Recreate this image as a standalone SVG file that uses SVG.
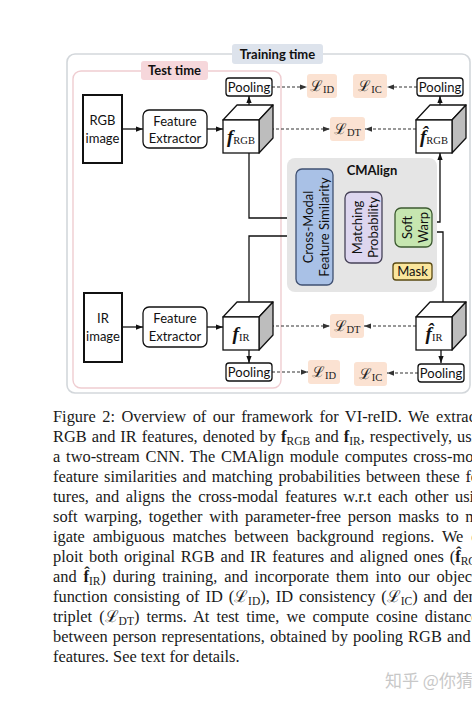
<svg xmlns="http://www.w3.org/2000/svg" width="472" height="701" viewBox="0 0 472 701">
<defs>
<marker id="ah" viewBox="0 0 8 6" refX="8" refY="3" markerWidth="7" markerHeight="5.5" markerUnits="userSpaceOnUse" orient="auto"><path d="M0,0 L8,3 L0,6 Z" fill="#111"/></marker>
<marker id="ahd" viewBox="0 0 8 6" refX="8" refY="3" markerWidth="7" markerHeight="5.5" markerUnits="userSpaceOnUse" orient="auto"><path d="M0,0 L8,3 L0,6 Z" fill="#333"/></marker>
</defs>
<style>
.lbl{font-family:Lato,"Open Sans","Liberation Sans",sans-serif;font-size:13px;fill:#111;text-anchor:middle}
.bold{font-weight:bold}
.box{fill:#fff;stroke:#111;stroke-width:1.3}
.img{fill:#fff;stroke:#111;stroke-width:2}
.ln{fill:none;stroke:#111;stroke-width:1.3}
.dl{fill:none;stroke:#333;stroke-width:1.2;stroke-dasharray:3 2}
.loss{fill:#fbe2d2}
.lt{font-family:"DejaVu Serif","Liberation Serif",serif;font-size:15px;fill:#222;text-anchor:middle}
.ls{font-family:"Liberation Serif",serif;font-size:10.5px}
.front{fill:#fff;stroke:#111;stroke-width:1.3}
.top{fill:#fff;stroke:#111;stroke-width:1.3;stroke-linejoin:round}
.side{fill:#bdbdbd;stroke:#111;stroke-width:1.3;stroke-linejoin:round}
.ft{font-family:"Liberation Serif",serif;font-size:19px;font-style:italic;font-weight:bold;fill:#111;text-anchor:middle}
.fs{font-size:10.5px;font-style:normal;font-weight:normal}
.cap{font-family:"Liberation Serif","Times New Roman",serif;font-size:16.4px;fill:#1a1a1a}
.sb{font-size:11.5px}
</style>

<g id="training-frame">
<rect x="67" y="54" width="403" height="339" rx="8" fill="none" stroke="#d3d7db" stroke-width="1.6"/>
<rect x="232" y="44" width="91" height="20" rx="3" fill="#dde3ec"/>
<text class="lbl bold" x="277.5" y="59">Training time</text>
</g>
<g id="test-frame">
<rect x="73" y="71" width="208" height="317" rx="8" fill="none" stroke="#efcdd1" stroke-width="1.4"/>
<rect x="141" y="61" width="67" height="19" rx="3" fill="#f6d7db"/>
<text class="lbl bold" x="174.5" y="75">Test time</text>
</g>

<g id="connectors">
<path class="ln" d="M122,129 H143" marker-end="url(#ah)"/>
<path class="ln" d="M207,129 H223" marker-end="url(#ah)"/>
<path class="ln" d="M122,327 H143" marker-end="url(#ah)"/>
<path class="ln" d="M207,327 H223" marker-end="url(#ah)"/>
<path class="ln" d="M249,112 V96" marker-end="url(#ah)"/>
<path class="ln" d="M249,350 V363" marker-end="url(#ah)"/>
<path class="ln" d="M249,153 V218 H296" marker-end="url(#ah)"/>
<path class="ln" d="M249,308 V236 H296" marker-end="url(#ah)"/>
<path class="ln" d="M333,227 H345" marker-end="url(#ah)"/>
<path class="ln" d="M382,227 H395" marker-end="url(#ah)"/>
<path class="ln" d="M413,263 V247" marker-end="url(#ah)"/>
<path class="ln" d="M432,222 H440 V153" marker-end="url(#ah)"/>
<path class="ln" d="M432,232 H443 V310" marker-end="url(#ah)"/>
<path class="ln" d="M440,112 V96" marker-end="url(#ah)"/>
<path class="ln" d="M441,350 V363" marker-end="url(#ah)"/>
<path class="dl" d="M272,87 H307" marker-end="url(#ahd)"/>
<path class="dl" d="M417,87 H387" marker-end="url(#ahd)"/>
<path class="dl" d="M266,129 H330" marker-end="url(#ahd)"/>
<path class="dl" d="M416,129 H365" marker-end="url(#ahd)"/>
<path class="dl" d="M266,326 H330" marker-end="url(#ahd)"/>
<path class="dl" d="M416,326 H364" marker-end="url(#ahd)"/>
<path class="dl" d="M272,372 H308" marker-end="url(#ahd)"/>
<path class="dl" d="M418,373 H387" marker-end="url(#ahd)"/>
</g>

<g id="rgb-image"><rect class="img" x="83" y="95" width="39" height="68"/>
<text class="lbl" x="102.5" y="125">RGB</text><text class="lbl" x="102.5" y="143">image</text></g>
<g id="ir-image"><rect class="img" x="84" y="293" width="38" height="69"/>
<text class="lbl" x="103" y="323">IR</text><text class="lbl" x="103" y="341">image</text></g>
<g id="fe-rgb"><rect class="box" x="143" y="110" width="64" height="38" rx="6"/>
<text class="lbl" x="175" y="126">Feature</text><text class="lbl" x="175" y="143">Extractor</text></g>
<g id="fe-ir"><rect class="box" x="143" y="307" width="64" height="40" rx="6"/>
<text class="lbl" x="175" y="323">Feature</text><text class="lbl" x="175" y="341">Extractor</text></g>

<g id="f-rgb">
<path class="top" d="M223,120 L237,105 H273 L259,120 Z"/>
<path class="side" d="M259,120 L273,105 V138 L259,153 Z"/>
<rect class="front" x="223" y="120" width="36" height="33"/>
<text class="ft" x="241" y="143">f<tspan class="fs" dy="1">RGB</tspan></text>
</g>
<g id="f-ir">
<path class="top" d="M223,317 L237,302 H273 L259,317 Z"/>
<path class="side" d="M259,317 L273,302 V335 L259,350 Z"/>
<rect class="front" x="223" y="317" width="36" height="33"/>
<text class="ft" x="241" y="340">f<tspan class="fs" dy="1">IR</tspan></text>
</g>
<g id="fhat-rgb">
<path class="top" d="M416,120 L430,105 H466 L452,120 Z"/>
<path class="side" d="M452,120 L466,105 V138 L452,153 Z"/>
<rect class="front" x="416" y="120" width="36" height="33"/>
<text class="ft" x="434" y="143">f&#x302;<tspan class="fs" dy="1">RGB</tspan></text>
</g>
<g id="fhat-ir">
<path class="top" d="M416,317 L430,302 H466 L452,317 Z"/>
<path class="side" d="M452,317 L466,302 V335 L452,350 Z"/>
<rect class="front" x="416" y="317" width="36" height="33"/>
<text class="ft" x="434" y="340">f&#x302;<tspan class="fs" dy="1">IR</tspan></text>
</g>

<g id="pool-rgb"><rect class="box" x="226" y="78" width="46" height="18" rx="3"/><text class="lbl" x="249" y="91.5">Pooling</text></g>
<g id="pool-ir"><rect class="box" x="226" y="363" width="46" height="18" rx="3"/><text class="lbl" x="249" y="376.5">Pooling</text></g>
<g id="pool-hat-rgb"><rect class="box" x="417" y="78" width="46" height="18" rx="3"/><text class="lbl" x="440" y="91.5">Pooling</text></g>
<g id="pool-hat-ir"><rect class="box" x="418" y="364" width="46" height="18" rx="3"/><text class="lbl" x="441" y="377.5">Pooling</text></g>

<g id="lid-top"><rect class="loss" x="307" y="74" width="30" height="24" rx="3"/><text class="lt" x="322" y="91">ℒ<tspan class="ls" dy="2">ID</tspan></text></g>
<g id="lic-top"><rect class="loss" x="353" y="74" width="34" height="24" rx="3"/><text class="lt" x="370" y="91">ℒ<tspan class="ls" dy="2">IC</tspan></text></g>
<g id="ldt-top"><rect class="loss" x="330" y="117" width="35" height="24" rx="3"/><text class="lt" x="347.5" y="134">ℒ<tspan class="ls" dy="2">DT</tspan></text></g>
<g id="ldt-bot"><rect class="loss" x="330" y="314" width="34" height="24" rx="3"/><text class="lt" x="347" y="331">ℒ<tspan class="ls" dy="2">DT</tspan></text></g>
<g id="lid-bot"><rect class="loss" x="308" y="360" width="32" height="24" rx="3"/><text class="lt" x="324" y="377">ℒ<tspan class="ls" dy="2">ID</tspan></text></g>
<g id="lic-bot"><rect class="loss" x="354" y="362" width="33" height="24" rx="3"/><text class="lt" x="370.5" y="379">ℒ<tspan class="ls" dy="2">IC</tspan></text></g>

<g id="cmalign">
<rect x="287" y="158" width="150" height="134" rx="8" fill="#e5e5e5"/>
<text class="lbl bold" x="372" y="175">CMAlign</text>
</g>
<g id="similarity"><rect x="296" y="169" width="37" height="116" rx="6" fill="#a9c1e6" stroke="#3f5072" stroke-width="1.3"/>
<text class="lbl" transform="translate(314.5,227) rotate(-90)"><tspan x="0" y="-2">Cross-Modal</tspan><tspan x="0" y="14">Feature Similarity</tspan></text></g>
<g id="matching"><rect x="345" y="192" width="37" height="71" rx="6" fill="#ddd6ef" stroke="#464258" stroke-width="1.3"/>
<text class="lbl" transform="translate(363.5,227.5) rotate(-90)"><tspan x="0" y="-2">Matching</tspan><tspan x="0" y="14">Probability</tspan></text></g>
<g id="softwarp"><rect x="395" y="208" width="37" height="39" rx="6" fill="#c6e6b0" stroke="#3c5a30" stroke-width="1.3"/>
<text class="lbl" transform="translate(413.5,227.5) rotate(-90)"><tspan x="0" y="-2">Soft</tspan><tspan x="0" y="14">Warp</tspan></text></g>
<g id="mask"><rect x="393" y="263" width="39" height="17" rx="3" fill="#fbe69c" stroke="#5a4a12" stroke-width="1.3"/>
<text class="lbl" x="412.5" y="276">Mask</text></g>

<g id="caption" class="cap">
<text x="53" y="421.5" word-spacing="2.4">Figure 2: Overview of our framework for VI-reID. We extract</text>
<text x="53" y="441.5" word-spacing="0.9">RGB and IR features, denoted by <tspan font-weight="bold">f</tspan><tspan class="sb" dy="3">RGB</tspan><tspan dy="-3"> and </tspan><tspan font-weight="bold">f</tspan><tspan class="sb" dy="3">IR</tspan><tspan dy="-3">, respectively, using</tspan></text>
<text x="53" y="461.5" word-spacing="1.7">a two-stream CNN. The CMAlign module computes cross-modal</text>
<text x="53" y="481.5" word-spacing="1.5">feature similarities and matching probabilities between these fea-</text>
<text x="53" y="501.5" word-spacing="2.5">tures, and aligns the cross-modal features w.r.t each other using</text>
<text x="53" y="521.5" word-spacing="2.6">soft warping, together with parameter-free person masks to mit-</text>
<text x="53" y="541.5" word-spacing="3.8">igate ambiguous matches between background regions. We ex-</text>
<text x="53" y="561.5" word-spacing="1.8">ploit both original RGB and IR features and aligned ones (<tspan font-weight="bold">f&#x302;</tspan><tspan class="sb" dy="3">RGB</tspan></text>
<text x="53" y="581.5" word-spacing="2.7">and <tspan font-weight="bold">f&#x302;</tspan><tspan class="sb" dy="3">IR</tspan><tspan dy="-3">) during training, and incorporate them into our objective</tspan></text>
<text x="53" y="601.5" word-spacing="1.8">function consisting of ID (ℒ<tspan class="sb" dy="3">ID</tspan><tspan dy="-3">), ID consistency (ℒ</tspan><tspan class="sb" dy="3">IC</tspan><tspan dy="-3">) and dense</tspan></text>
<text x="53" y="621.5" word-spacing="2.9">triplet (ℒ<tspan class="sb" dy="3">DT</tspan><tspan dy="-3">) terms. At test time, we compute cosine distance</tspan></text>
<text x="53" y="641.5" word-spacing="1">between person representations, obtained by pooling RGB and IR</text>
<text x="53" y="661.5">features. See text for details.</text>
</g>
<g id="watermark"><text x="385" y="687" font-family="'Noto Sans CJK SC',sans-serif" font-size="17" fill="#c8c8c8">知乎 @你猜</text></g>
</svg>
